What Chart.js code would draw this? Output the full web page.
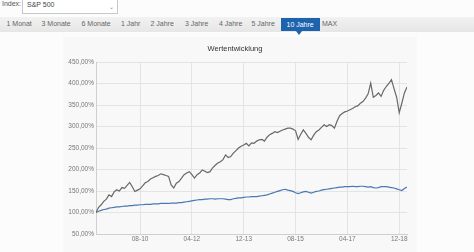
<!DOCTYPE html>
<html>
<head>
<meta charset="utf-8">
<script src="https://cdn.jsdelivr.net/npm/chart.js@4.4.1/dist/chart.umd.min.js"></script>
<style>
    body { margin: 0; width: 474px; height: 252px; background: #fcfcfc; font-family: "Liberation Sans", Arial, sans-serif; overflow: hidden; position: relative; }
    #indexLabel { position: absolute; left: 2px; top: 0px; font-size: 7px; color: #555; }
    #select { position: absolute; left: 22px; top: -3px; width: 94px; height: 15px; border: 1px solid #c8c8c8; background: #fff; }
    #select span { position: absolute; left: 4px; top: 3px; font-size: 7px; color: #444; }
    #select i { position: absolute; right: 3px; top: 5px; font-style: normal; font-size: 6px; color: #888; }
    #tabs { position: absolute; left: 0; top: 17px; width: 474px; height: 15px; background: linear-gradient(#f2f2f2, #e6e6e6); }
    .tab { position: absolute; top: 3px; font-size: 7px; color: #666; white-space: nowrap; }
    .tab.active { top: 1px; height: 13px; line-height: 13px; padding: 0 6px; background: #1d63ad; color: #fff; }
    #arrow { position: absolute; left: 296px; top: 31px; width: 0; height: 0; border-left: 3px solid transparent; border-right: 3px solid transparent; border-top: 4px solid #1d63ad; }
    #box { position: absolute; left: 63px; top: 37px; width: 354px; height: 215px; background: #f8f8f8; }
</style>
</head>
<body>
<div id="indexLabel">Index:</div>
<div id="select"><span>S&amp;P 500</span><i>&#8964;</i></div>
<div id="tabs"></div>
<div id="arrow"></div>
<div id="box"><canvas id="myChart"></canvas></div>
<script>
const tabNames = ['1 Monat', '3 Monate', '6 Monate', '1 Jahr', '2 Jahre', '3 Jahre', '4 Jahre', '5 Jahre', '10 Jahre', 'MAX']
const tabLeft = [6.5, 41.5, 81.5, 121, 150.5, 185, 219, 251.5, 280.5, 322]
const activeTab = '10 Jahre'

// months since 03-2009, one value per month
const tickMonths = [17, 37, 57, 77, 97, 117]
const tickLabels = ['08-10', '04-12', '12-13', '08-15', '04-17', '12-18']

const indexValues = [
    100, 112, 118, 126, 131, 141, 137, 148, 153, 150,
    158, 156, 163, 170, 160, 149, 152, 155, 162, 169,
    172, 178, 181, 184, 186, 190, 188, 186, 184, 164,
    157, 168, 172, 180, 188, 192, 195, 188, 180, 188,
    192, 199, 196, 193, 195, 204, 210, 215, 218, 223,
    234, 228, 230, 238, 244, 250, 254, 257, 261, 255,
    262, 261, 266, 269, 270, 266, 275, 281, 284, 288,
    286, 289, 292, 294, 296, 296, 294, 290, 270, 282,
    292, 284, 275, 269, 280, 288, 292, 298, 304, 300,
    304, 302, 296, 312, 325, 330, 334, 336, 339, 342,
    346, 348, 354, 358, 366, 376, 401, 368, 372, 378,
    370, 384, 393, 400, 409, 388, 368, 332, 354, 378,
    392
]

const fundValues = [
    100, 103, 105, 107, 108, 110, 111, 112, 113, 113,
    114, 115, 115, 116, 116, 117, 117, 118, 118, 119,
    119, 119, 120, 120, 120, 121, 121, 121, 121, 122,
    122, 122, 123, 123, 124, 125, 126, 127, 128, 129,
    130, 130, 131, 131, 132, 132, 131, 132, 132, 132,
    131, 130, 130, 132, 133, 134, 134, 135, 136, 136,
    137, 137, 137, 138, 139, 140, 141, 143, 145, 147,
    149, 151, 153, 154, 152, 151, 149, 146, 144, 146,
    148, 149, 147, 145, 147, 149, 150, 152, 153, 154,
    155, 156, 157, 158, 159, 159, 160, 160, 160, 161,
    160, 160, 161, 161, 160, 159, 160, 158, 157, 158,
    160, 160, 160, 159, 158, 157, 155, 153, 151, 156,
    159
]

const tabs = document.querySelector('#tabs')
tabNames.forEach((name, i) => {
    const el = document.createElement('span')
    el.className = name === activeTab ? 'tab active' : 'tab'
    el.style.left = tabLeft[i] + 'px'
    el.textContent = name
    tabs.appendChild(el)
})

const ctx = document.getElementById('myChart')
ctx.width = 354
ctx.height = 215

const config = {
    type: 'line',
    data: {
        datasets: [
            {
                data: indexValues.map((v, i) => ({ x: i, y: v })),
                borderColor: '#686868',
                borderWidth: 1.2,
                pointRadius: 0,
                tension: 0,
            },
            {
                data: fundValues.map((v, i) => ({ x: i, y: v })),
                borderColor: '#4a78b0',
                borderWidth: 1.2,
                pointRadius: 0,
                tension: 0,
            },
        ],
    },
    options: {
        responsive: false,
        animation: false,
        layout: { padding: { top: 7, right: 10, left: 0, bottom: 0 } },
        plugins: {
            legend: { display: false },
            tooltip: { enabled: false },
            title: {
                display: true,
                text: 'Wertentwicklung',
                color: '#333',
                font: { family: 'Liberation Sans', size: 7.5, weight: 'normal' },
                padding: { top: 0, bottom: 9 },
            },
        },
        scales: {
            x: {
                type: 'linear',
                min: 0,
                max: 120,
                afterBuildTicks: (scale) => { scale.ticks = tickMonths.map((v) => ({ value: v })) },
                afterFit: (scale) => { scale.height = 18 },
                ticks: {
                    autoSkip: false,
                    maxRotation: 0,
                    padding: 1,
                    color: '#777',
                    font: { family: 'Liberation Sans', size: 6.5 },
                    callback: (value) => tickLabels[tickMonths.indexOf(value)],
                },
                grid: { color: '#e4e4e4', drawTicks: false },
                border: { color: '#cfcfcf' },
            },
            y: {
                min: 50,
                max: 450,
                afterFit: (scale) => { scale.width = 33 },
                ticks: {
                    stepSize: 50,
                    padding: 2,
                    color: '#777',
                    font: { family: 'Liberation Sans', size: 6.5 },
                    callback: (value) => value.toFixed(2).replace('.', ',') + '%',
                },
                grid: { color: '#e4e4e4', drawTicks: false },
                border: { color: '#cfcfcf' },
            },
        },
    },
}

new Chart(ctx, config)
</script>
</body>
</html>
